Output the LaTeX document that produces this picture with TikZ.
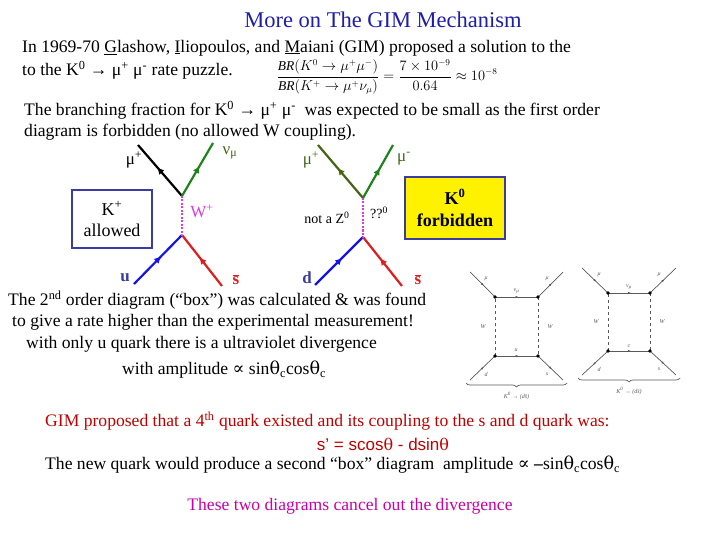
\documentclass[tikz,border=0pt]{standalone}
\usepackage{fontspec}
\setmainfont{Liberation Serif}
\setsansfont{Liberation Sans}
\newfontfamily\dvs{DejaVu Serif}
\newcommand{\thz}{{\dvs θ}}
\newcommand{\prp}{{\dvs ∝}}
\usetikzlibrary{decorations.markings,decorations.pathreplacing,arrows.meta}
\definecolor{ttl}{RGB}{30,30,170}
\definecolor{kblue}{RGB}{60,60,160}
\definecolor{qblue}{RGB}{20,20,230}
\definecolor{qred}{RGB}{220,30,30}
\definecolor{lgreen}{RGB}{30,130,30}
\definecolor{olive}{RGB}{70,100,20}
\definecolor{wmag}{RGB}{220,60,220}
\definecolor{gimred}{RGB}{190,0,0}
\definecolor{pink}{RGB}{200,0,170}
\begin{document}
\begin{tikzpicture}[x=1pt,y=-1pt,
  txt/.style={anchor=west,inner sep=0pt,font=\fontsize{17.6}{19}\selectfont},
  prop/.style={line width=2.2pt,postaction={decorate},decoration={markings,mark=at position 0.55 with {\arrow{Triangle[length=6pt,width=6pt]}}}},
  wline/.style={line width=2.2pt,wmag,dash pattern=on 2pt off 1.5pt},
  lbl/.style={inner sep=0pt,font=\fontsize{17}{19}\selectfont},
  thin/.style={gray!70!black,line width=0.7pt},
  thinarr/.style={thin,postaction={decorate},decoration={markings,mark=at position 0.55 with {\arrow{Latex[length=3pt]}}}},
  tiny/.style={inner sep=0pt,font=\fontsize{6}{7}\selectfont\itshape,gray!70!black}]
\useasboundingbox (0,0) rectangle (720,540);
\node[inner sep=0pt,ttl,font=\fontsize{22.5}{24}\selectfont] (title) at (383,20) {More on The GIM Mechanism};
\node[txt] (l1) at (22,48) {In 1969-70 \underline{G}lashow, \underline{I}liopoulos, and \underline{M}aiani (GIM) proposed a solution to the};
\node[txt] (l2) at (22,70) {to the K\textsuperscript{0} → μ\textsuperscript{+} μ\textsuperscript{-} rate puzzle.};
\node[inner sep=0pt,font=\fontsize{13.5}{15}\selectfont] (br) at (387,77) {$\displaystyle\frac{\textit{BR}(K^0\to\mu^+\mu^-)}{\textit{BR}(K^+\to\mu^+\nu_\mu)}=\frac{7\times10^{-9}}{0.64}\approx10^{-8}$};
\node[txt] (l3) at (24,110) {The branching fraction for K\textsuperscript{0} → μ\textsuperscript{+} μ\textsuperscript{-}\ \ was expected to be small as the first order};
\node[txt] (l4) at (24,132) {diagram is forbidden (no allowed W coupling).};
% diagram 1
\coordinate (v1) at (182,196); \coordinate (v2) at (182,235);
\coordinate (m1) at (138,145); \coordinate (n1) at (213,143);
\coordinate (u1) at (134,284); \coordinate (s1) at (222,286);
\draw[prop,black] (v1) -- (m1);
\draw[prop,lgreen] (v1) -- (n1);
\draw[prop,qblue] (u1) -- (v2);
\draw[prop,qred] (s1) -- (v2);
\draw[wline] (v1) -- (v2);
\node[lbl] (lm1) at (134,160) {μ\textsuperscript{+}};
\node[lbl,olive] (ln1) at (230,153) {ν\textsubscript{μ}};
\node[lbl,wmag] (lw1) at (202,211) {W\textsuperscript{+}};
\node[lbl,kblue,font=\fontsize{17}{19}\selectfont\bfseries] (lu1) at (125,278) {u};
\node[lbl,qred,font=\fontsize{17}{19}\selectfont\bfseries] (ls1) at (236,280) {$\overline{\mbox{s}}$};
\node[draw=kblue,line width=1.5pt,minimum width=80pt,minimum height=58pt,align=center,font=\fontsize{18}{21}\selectfont] (kp) at (112,219) {K\textsuperscript{+}\\allowed};
% diagram 2
\coordinate (w1) at (363,198); \coordinate (w2) at (363,237);
\coordinate (m2) at (318,145); \coordinate (n2) at (393,145);
\coordinate (d2) at (315,285); \coordinate (s2) at (402,286);
\draw[prop,olive] (w1) -- (m2);
\draw[prop,lgreen] (w1) -- (n2);
\draw[prop,qblue] (d2) -- (w2);
\draw[prop,qred] (s2) -- (w2);
\draw[wline] (w1) -- (w2);
\node[lbl,olive] (lm2) at (311,160) {μ\textsuperscript{+}};
\node[lbl,olive] (ln2) at (404,159) {μ\textsuperscript{-}};
\node[inner sep=0pt,font=\fontsize{14}{16}\selectfont] (nz) at (327,218) {not a Z\textsuperscript{0}};
\node[inner sep=0pt,font=\fontsize{14}{16}\selectfont] (qq) at (379,213) {??\textsuperscript{0}};
\node[lbl,kblue,font=\fontsize{17}{19}\selectfont\bfseries] (ld2) at (307,278) {d};
\node[lbl,qred,font=\fontsize{17}{19}\selectfont\bfseries] (ls2) at (418,280) {$\overline{\mbox{s}}$};
\node[draw=kblue,fill=yellow,line width=1.5pt,minimum width=100pt,minimum height=62pt,align=center,font=\fontsize{18}{22}\selectfont\bfseries] (k0) at (455,208) {K\textsuperscript{0}\\forbidden};
% text
\node[txt] (t1) at (8,300) {The 2\textsuperscript{nd} order diagram (“box”) was calculated \& was found};
\node[txt] (t2) at (12,322) {to give a rate higher than the experimental measurement!};
\node[txt] (t3) at (26,344) {with only u quark there is a ultraviolet divergence};
\node[txt] (t4) at (122,370) {with amplitude \prp\ sin\thz\textsubscript{c}cos\thz\textsubscript{c}};
\node[txt,gimred] (g1) at (45,421) {GIM proposed that a 4\textsuperscript{th} quark existed and its coupling to the s and d quark was:};
\node[inner sep=0pt,gimred,font=\fontsize{17}{19}\selectfont\sffamily] (g2) at (383,444) {s’ = scos{\dvs\fontsize{16}{18}\selectfont θ} - dsin{\dvs\fontsize{16}{18}\selectfont θ}};
\node[txt] (g3) at (45,465) {The new quark would produce a second “box” diagram\ \ amplitude \prp\ \textbf{–}sin\thz\textsubscript{c}cos\thz\textsubscript{c}};
\node[inner sep=0pt,pink,font=\fontsize{17.6}{19}\selectfont] (g4) at (350,506) {These two diagrams cancel out the divergence};
% box diagrams picture
\foreach \n/\xa/\xb/\ya/\yb/\ex in {a/495/538/297/356/25, b/608/650/293/351/26}{
  \coordinate (\n1) at (\xa,\ya); \coordinate (\n2) at (\xb,\ya);
  \coordinate (\n3) at (\xa,\yb); \coordinate (\n4) at (\xb,\yb);
  \coordinate (\n5) at (\xa-\ex,\ya-25); \coordinate (\n6) at (\xb+\ex,\ya-25);
  \coordinate (\n7) at (\xa-\ex,\yb+24); \coordinate (\n8) at (\xb+\ex,\yb+24);
  \draw[thinarr] (\n5) -- (\n1);
  \draw[thinarr] (\n2) -- (\n6);
  \draw[thinarr] (\n7) -- (\n3);
  \draw[thinarr] (\n4) -- (\n8);
  \draw[thinarr] (\n1) -- (\n2);
  \draw[thinarr] (\n3) -- (\n4);
  \draw[thin,dashed] (\n3) -- (\n1);
  \draw[thin,dashed] (\n2) -- (\n4);
  \foreach \k in {1,2,3,4} \fill[black] (\n\k) circle (1.8pt);
  \draw[thin,decorate,decoration={brace,mirror,amplitude=4pt}] (\xa-\ex-4,\yb+27) -- (\xb+\ex+4,\yb+27);
  \node[tiny] at (\xa-12,{(\ya+\yb)/2}) {W};
  \node[tiny] at (\xb+12,{(\ya+\yb)/2}) {W};
  \node[tiny] at ({(\xa+\xb)/2},\ya-6) {ν\textsubscript{μ}};
  \node[tiny] at (\xa-9,\ya-18) {μ};
  \node[tiny] at (\xb+9,\ya-18) {μ};
  \node[tiny] at (\xa-9,\yb+18) {d};
  \node[tiny] at (\xb+9,\yb+18) {s};
  \node[tiny] at ({(\xa+\xb)/2},\yb+40) {K\textsuperscript{0} → (ds̄)};
}
\node[tiny] at (516,350) {u};
\node[tiny] at (629,346) {c};
\end{tikzpicture}
\end{document}
